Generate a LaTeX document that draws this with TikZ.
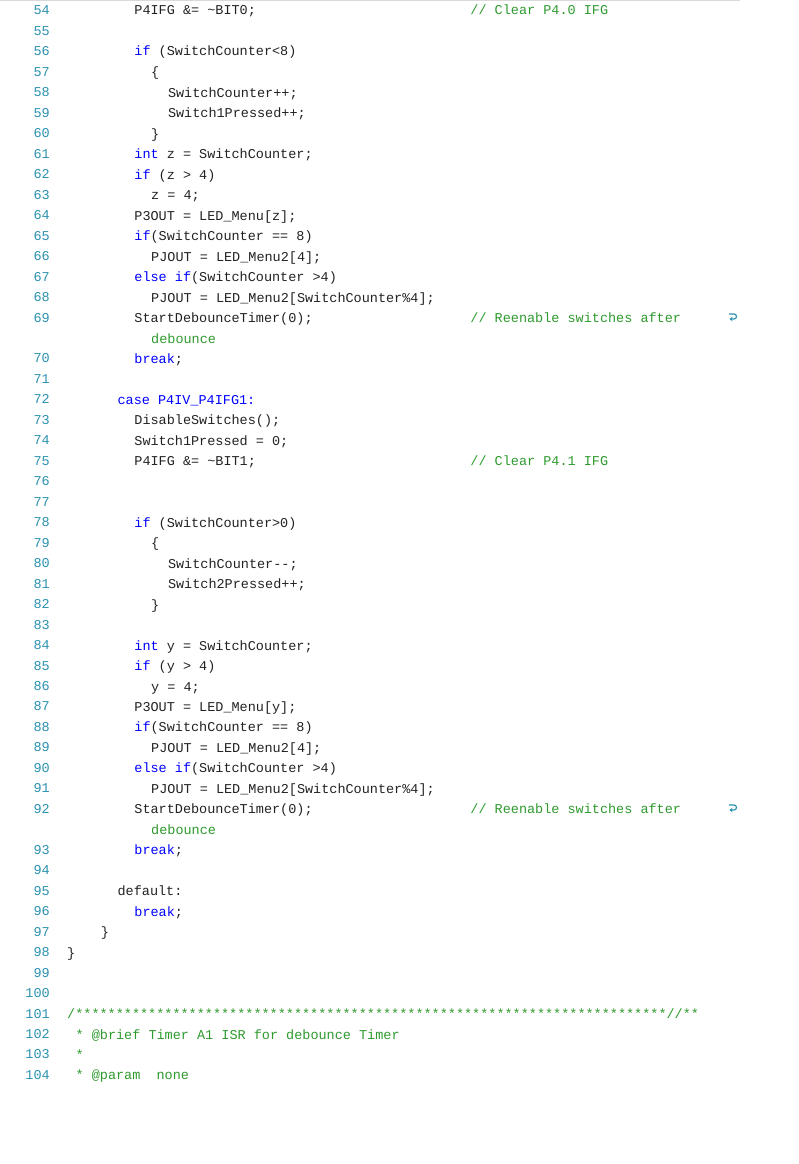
\documentclass[tikz,border=0pt]{standalone}
\usepackage{fontspec}
\usetikzlibrary{arrows.meta}
\newfontfamily\code{Liberation Mono}
\definecolor{lnum}{HTML}{2B91AF}
\definecolor{kw}{HTML}{0000FF}
\definecolor{cm}{HTML}{2E9A2E}
\definecolor{tx}{HTML}{222222}
\newcommand{\kw}[1]{\textcolor{kw}{#1}}
\newcommand{\cmt}[1]{\textcolor{cm}{#1}}
\begin{document}
\begin{tikzpicture}[x=1pt,y=-1pt,
  ln/.style={anchor=base east,inner sep=0,text=lnum,font=\code\fontsize{13.5}{14}\selectfont},
  cd/.style={anchor=base west,inner sep=0,text=tx,font=\code\fontsize{13.5}{14}\selectfont}]
\useasboundingbox (0,0) rectangle (799,1164);
\draw[gray!30,line width=1pt] (0,0.5) -- (740,0.5);
\newcommand{\R}[1]{\the\numexpr 15+(2047*#1)/100\relax}
\newcommand{\C}[4]{\node[cd] (#1) at ({67+8.4*#3},\R{#2}) {#4};}
\newcommand{\W}[2]{\coordinate (#1) at (733,{\R{#2}-8});
  \draw[lnum,line width=1.2pt,-{Stealth[length=3pt,width=4.5pt]}] ([xshift=-4pt]#1) -- ([xshift=1pt]#1) arc[start angle=90,end angle=-90,radius=2.5pt] -- ++(-4.5pt,0);}
% line numbers
\foreach \n [count=\i from 0] in {54,...,69}{\node[ln] (n\n) at (50,{15+20.47*\i}) {\n};}
\foreach \n [count=\i from 17] in {70,...,92}{\node[ln] (n\n) at (50,{15+20.47*\i}) {\n};}
\foreach \n [count=\i from 41] in {93,...,104}{\node[ln] (n\n) at (50,{15+20.47*\i}) {\n};}
% code
\C{c54}{0}{8}{P4IFG \&= \textasciitilde BIT0;}
\C{k54}{0}{48}{\cmt{// Clear P4.0 IFG}}
\C{c56}{2}{8}{\kw{if} (SwitchCounter<8)}
\C{c57}{3}{10}{\{}
\C{c58}{4}{12}{SwitchCounter++;}
\C{c59}{5}{12}{Switch1Pressed++;}
\C{c60}{6}{10}{\}}
\C{c61}{7}{8}{\kw{int} z = SwitchCounter;}
\C{c62}{8}{8}{\kw{if} (z > 4)}
\C{c63}{9}{10}{z = 4;}
\C{c64}{10}{8}{P3OUT = LED\_Menu[z];}
\C{c65}{11}{8}{\kw{if}(SwitchCounter == 8)}
\C{c66}{12}{10}{PJOUT = LED\_Menu2[4];}
\C{c67}{13}{8}{\kw{else if}(SwitchCounter >4)}
\C{c68}{14}{10}{PJOUT = LED\_Menu2[SwitchCounter\%4];}
\C{c69}{15}{8}{StartDebounceTimer(0);}
\C{k69}{15}{48}{\cmt{// Reenable switches after}}
\W{w69}{15}
\C{d69}{16}{10}{\cmt{debounce}}
\C{c70}{17}{8}{\kw{break};}
\C{c72}{19}{6}{\kw{case P4IV\_P4IFG1:}}
\C{c73}{20}{8}{DisableSwitches();}
\C{c74}{21}{8}{Switch1Pressed = 0;}
\C{c75}{22}{8}{P4IFG \&= \textasciitilde BIT1;}
\C{k75}{22}{48}{\cmt{// Clear P4.1 IFG}}
\C{c78}{25}{8}{\kw{if} (SwitchCounter>0)}
\C{c79}{26}{10}{\{}
\C{c80}{27}{12}{SwitchCounter-{}-;}
\C{c81}{28}{12}{Switch2Pressed++;}
\C{c82}{29}{10}{\}}
\C{c84}{31}{8}{\kw{int} y = SwitchCounter;}
\C{c85}{32}{8}{\kw{if} (y > 4)}
\C{c86}{33}{10}{y = 4;}
\C{c87}{34}{8}{P3OUT = LED\_Menu[y];}
\C{c88}{35}{8}{\kw{if}(SwitchCounter == 8)}
\C{c89}{36}{10}{PJOUT = LED\_Menu2[4];}
\C{c90}{37}{8}{\kw{else if}(SwitchCounter >4)}
\C{c91}{38}{10}{PJOUT = LED\_Menu2[SwitchCounter\%4];}
\C{c92}{39}{8}{StartDebounceTimer(0);}
\C{k92}{39}{48}{\cmt{// Reenable switches after}}
\W{w92}{39}
\C{d92}{40}{10}{\cmt{debounce}}
\C{c93}{41}{8}{\kw{break};}
\C{c95}{43}{6}{default:}
\C{c96}{44}{8}{\kw{break};}
\C{c97}{45}{4}{\}}
\C{c98}{46}{0}{\}}
\C{c101}{49}{0}{\cmt{/*************************************************************************//**}}
\C{c102}{50}{1}{\cmt{* @brief Timer A1 ISR for debounce Timer}}
\C{c103}{51}{1}{\cmt{*}}
\C{c104}{52}{1}{\cmt{* @param\ \ none}}
\end{tikzpicture}
\end{document}
